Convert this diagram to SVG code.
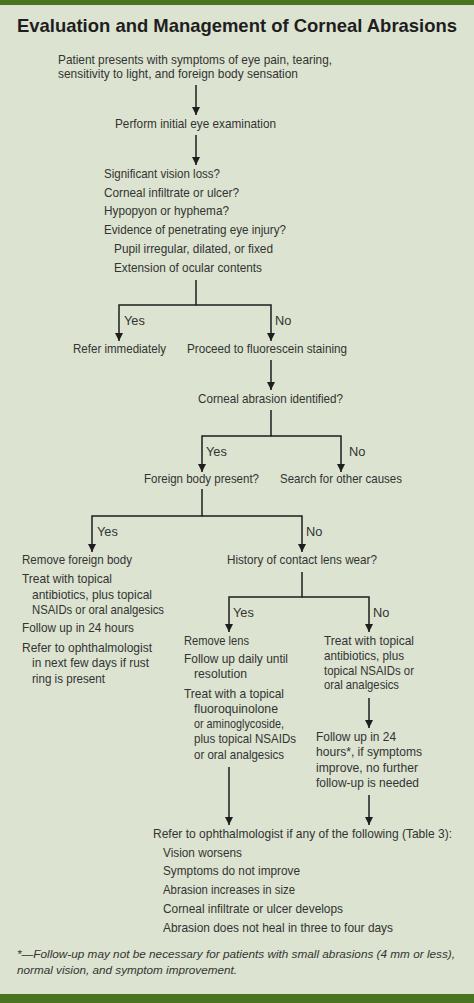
<svg xmlns="http://www.w3.org/2000/svg" width="474" height="1003" viewBox="0 0 474 1003">
<defs>
<style>
.t{font-family:"Liberation Sans",Arial,sans-serif;font-size:12.8px;fill:#333333;}
.title{font-family:"Liberation Sans",Arial,sans-serif;font-size:18.6px;font-weight:bold;fill:#1e1e1e;}
.fn{font-family:"Liberation Sans",Arial,sans-serif;font-size:11.3px;font-style:italic;fill:#333333;}
.c{fill:none;stroke:#1e1e1e;stroke-width:1.5;}
.a{marker-end:url(#ah);}
</style>
<marker id="ah" viewBox="0 0 10 10" refX="10" refY="5" markerWidth="11" markerHeight="8" markerUnits="userSpaceOnUse" orient="auto">
<path d="M0,0 L10,5 L0,10 z" fill="#1e1e1e"/>
</marker>
</defs>
<rect x="0" y="0" width="474" height="1003" fill="#dce3d0"/>
<rect x="0" y="0" width="474" height="5" fill="#4b7420"/>
<rect x="0" y="994" width="474" height="9" fill="#4b7420"/>
<text class="title" x="17" y="32" textLength="440" lengthAdjust="spacingAndGlyphs">Evaluation and Management of Corneal Abrasions</text>

<g id="connectors">
<path class="c a" d="M196,85 V115"/>
<path class="c a" d="M196,135 V165"/>
<path class="c a" d="M196,280 V305 H119 V341"/>
<path class="c a" d="M196,305 H271 V341"/>
<path class="c a" d="M271,360 V390"/>
<path class="c a" d="M271,410 V436 H202 V472"/>
<path class="c a" d="M271,436 H341 V472"/>
<path class="c a" d="M202,489 V516 H92 V552"/>
<path class="c a" d="M202,516 H302 V552"/>
<path class="c a" d="M302,572 V597 H229 V632"/>
<path class="c a" d="M302,597 H369 V632"/>
<path class="c a" d="M369,698 V728"/>
<path class="c a" d="M369,795 V825"/>
<path class="c a" d="M229,767 V825"/>
</g>

<g id="labels">
<text class="t" x="124" y="325">Yes</text>
<text class="t" x="275" y="325">No</text>
<text class="t" x="206" y="456">Yes</text>
<text class="t" x="349" y="456">No</text>
<text class="t" x="97" y="536">Yes</text>
<text class="t" x="306" y="536">No</text>
<text class="t" x="233" y="617">Yes</text>
<text class="t" x="373" y="617">No</text>
</g>

<g id="n-patient">
<text class="t" x="58" y="64" textLength="274" lengthAdjust="spacingAndGlyphs">Patient presents with symptoms of eye pain, tearing,</text>
<text class="t" x="58" y="78" textLength="240" lengthAdjust="spacingAndGlyphs">sensitivity to light, and foreign body sensation</text>
</g>
<g id="n-exam">
<text class="t" x="115" y="128" textLength="161" lengthAdjust="spacingAndGlyphs">Perform initial eye examination</text>
</g>
<g id="n-questions">
<text class="t" x="104" y="178" textLength="116" lengthAdjust="spacingAndGlyphs">Significant vision loss?</text>
<text class="t" x="104" y="197" textLength="135" lengthAdjust="spacingAndGlyphs">Corneal infiltrate or ulcer?</text>
<text class="t" x="104" y="215" textLength="125" lengthAdjust="spacingAndGlyphs">Hypopyon or hyphema?</text>
<text class="t" x="104" y="234" textLength="182" lengthAdjust="spacingAndGlyphs">Evidence of penetrating eye injury?</text>
<text class="t" x="114" y="253" textLength="159" lengthAdjust="spacingAndGlyphs">Pupil irregular, dilated, or fixed</text>
<text class="t" x="114" y="272" textLength="148" lengthAdjust="spacingAndGlyphs">Extension of ocular contents</text>
</g>
<g id="n-refer">
<text class="t" x="73" y="353" textLength="93" lengthAdjust="spacingAndGlyphs">Refer immediately</text>
</g>
<g id="n-stain">
<text class="t" x="187" y="353" textLength="160" lengthAdjust="spacingAndGlyphs">Proceed to fluorescein staining</text>
</g>
<g id="n-abrasion">
<text class="t" x="198" y="403" textLength="145" lengthAdjust="spacingAndGlyphs">Corneal abrasion identified?</text>
</g>
<g id="n-foreign">
<text class="t" x="144" y="483" textLength="115" lengthAdjust="spacingAndGlyphs">Foreign body present?</text>
</g>
<g id="n-search">
<text class="t" x="280" y="483" textLength="122" lengthAdjust="spacingAndGlyphs">Search for other causes</text>
</g>
<g id="n-remove-fb">
<text class="t" x="22" y="564" textLength="110" lengthAdjust="spacingAndGlyphs">Remove foreign body</text>
<text class="t" x="22" y="583" textLength="90" lengthAdjust="spacingAndGlyphs">Treat with topical</text>
<text class="t" x="32" y="599" textLength="120" lengthAdjust="spacingAndGlyphs">antibiotics, plus topical</text>
<text class="t" x="32" y="614" textLength="132" lengthAdjust="spacingAndGlyphs">NSAIDs or oral analgesics</text>
<text class="t" x="22" y="632" textLength="112" lengthAdjust="spacingAndGlyphs">Follow up in 24 hours</text>
<text class="t" x="22" y="652" textLength="130" lengthAdjust="spacingAndGlyphs">Refer to ophthalmologist</text>
<text class="t" x="32" y="667" textLength="117" lengthAdjust="spacingAndGlyphs">in next few days if rust</text>
<text class="t" x="32" y="683" textLength="73" lengthAdjust="spacingAndGlyphs">ring is present</text>
</g>
<g id="n-contact">
<text class="t" x="227" y="564" textLength="150" lengthAdjust="spacingAndGlyphs">History of contact lens wear?</text>
</g>
<g id="n-lens-yes">
<text class="t" x="184" y="645" textLength="65" lengthAdjust="spacingAndGlyphs">Remove lens</text>
<text class="t" x="184" y="663" textLength="104" lengthAdjust="spacingAndGlyphs">Follow up daily until</text>
<text class="t" x="194" y="678" textLength="53" lengthAdjust="spacingAndGlyphs">resolution</text>
<text class="t" x="184" y="698" textLength="100" lengthAdjust="spacingAndGlyphs">Treat with a topical</text>
<text class="t" x="194" y="713" textLength="84" lengthAdjust="spacingAndGlyphs">fluoroquinolone</text>
<text class="t" x="194" y="728" textLength="90" lengthAdjust="spacingAndGlyphs">or aminoglycoside,</text>
<text class="t" x="194" y="743" textLength="102" lengthAdjust="spacingAndGlyphs">plus topical NSAIDs</text>
<text class="t" x="194" y="759" textLength="90" lengthAdjust="spacingAndGlyphs">or oral analgesics</text>
</g>
<g id="n-lens-no">
<text class="t" x="324" y="645" textLength="90" lengthAdjust="spacingAndGlyphs">Treat with topical</text>
<text class="t" x="324" y="660" textLength="80" lengthAdjust="spacingAndGlyphs">antibiotics, plus</text>
<text class="t" x="324" y="675" textLength="90" lengthAdjust="spacingAndGlyphs">topical NSAIDs or</text>
<text class="t" x="324" y="689" textLength="75" lengthAdjust="spacingAndGlyphs">oral analgesics</text>
</g>
<g id="n-followup">
<text class="t" x="316" y="741" textLength="80" lengthAdjust="spacingAndGlyphs">Follow up in 24</text>
<text class="t" x="316" y="756" textLength="106" lengthAdjust="spacingAndGlyphs">hours*, if symptoms</text>
<text class="t" x="316" y="772" textLength="102" lengthAdjust="spacingAndGlyphs">improve, no further</text>
<text class="t" x="316" y="787" textLength="103" lengthAdjust="spacingAndGlyphs">follow-up is needed</text>
</g>
<g id="n-ophth">
<text class="t" x="153" y="838" textLength="299" lengthAdjust="spacingAndGlyphs">Refer to ophthalmologist if any of the following (Table 3):</text>
<text class="t" x="163" y="857" textLength="79" lengthAdjust="spacingAndGlyphs">Vision worsens</text>
<text class="t" x="163" y="875" textLength="137" lengthAdjust="spacingAndGlyphs">Symptoms do not improve</text>
<text class="t" x="163" y="894" textLength="132" lengthAdjust="spacingAndGlyphs">Abrasion increases in size</text>
<text class="t" x="163" y="913" textLength="180" lengthAdjust="spacingAndGlyphs">Corneal infiltrate or ulcer develops</text>
<text class="t" x="163" y="932" textLength="230" lengthAdjust="spacingAndGlyphs">Abrasion does not heal in three to four days</text>
</g>
<g id="footnote">
<text class="fn" x="17" y="958" textLength="438" lengthAdjust="spacingAndGlyphs">*—Follow-up may not be necessary for patients with small abrasions (4 mm or less),</text>
<text class="fn" x="17" y="974" textLength="220" lengthAdjust="spacingAndGlyphs">normal vision, and symptom improvement.</text>
</g>
</svg>
